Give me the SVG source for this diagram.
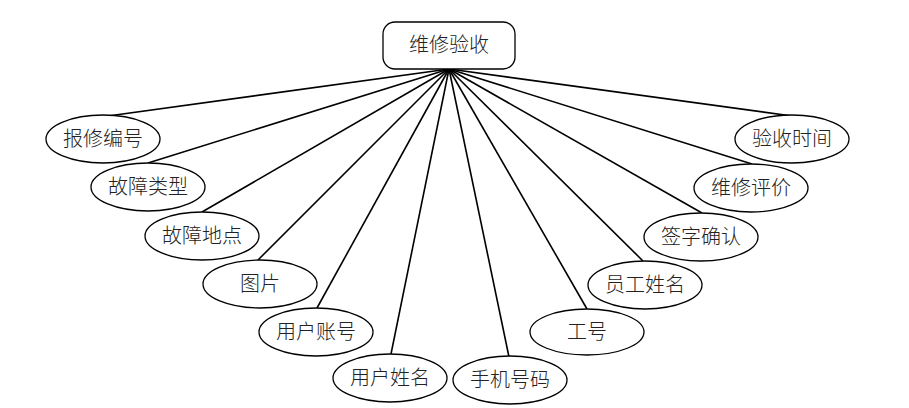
<svg xmlns="http://www.w3.org/2000/svg" width="909" height="408" viewBox="0 0 909 408">
<style>
.n{fill:#fff;stroke:#000;stroke-width:1.3}
.t{font-family:"Noto Sans CJK SC","Noto Sans",sans-serif;font-size:20px;font-weight:300;fill:#222;text-anchor:middle}
.c line{stroke:#000;stroke-width:1.6}
</style>
<rect width="909" height="408" fill="#fff"/>
<g class="c" id="connectors">
<line x1="449" y1="69" x2="108" y2="116"/>
<line x1="449" y1="69" x2="148" y2="163"/>
<line x1="449" y1="69" x2="202" y2="212"/>
<line x1="449" y1="69" x2="258" y2="260"/>
<line x1="449" y1="69" x2="317" y2="308"/>
<line x1="449" y1="69" x2="391" y2="354"/>
<line x1="449" y1="69" x2="509" y2="357"/>
<line x1="449" y1="69" x2="587" y2="309"/>
<line x1="449" y1="69" x2="643" y2="261"/>
<line x1="449" y1="69" x2="702" y2="213"/>
<line x1="449" y1="69" x2="752" y2="164"/>
<line x1="449" y1="69" x2="792" y2="116"/>
</g>
<g id="root"><rect class="n" x="383" y="22" width="132" height="47" rx="12"/><text class="t" x="449" y="52">维修验收</text></g>
<g id="n1"><ellipse class="n" cx="103" cy="139" rx="57" ry="24"/><text class="t" x="103" y="146">报修编号</text></g>
<g id="n2"><ellipse class="n" cx="148" cy="187" rx="57" ry="24"/><text class="t" x="148" y="194">故障类型</text></g>
<g id="n3"><ellipse class="n" cx="202" cy="236" rx="57" ry="24"/><text class="t" x="202" y="243">故障地点</text></g>
<g id="n4"><ellipse class="n" cx="260" cy="284" rx="57" ry="24"/><text class="t" x="260" y="291">图片</text></g>
<g id="n5"><ellipse class="n" cx="316" cy="332" rx="57" ry="24"/><text class="t" x="316" y="339">用户账号</text></g>
<g id="n6"><ellipse class="n" cx="390" cy="378" rx="57" ry="24"/><text class="t" x="390" y="385">用户姓名</text></g>
<g id="n7"><ellipse class="n" cx="510" cy="380" rx="57" ry="24"/><text class="t" x="510" y="387">手机号码</text></g>
<g id="n8"><ellipse class="n" cx="587" cy="332" rx="57" ry="23"/><text class="t" x="587" y="339">工号</text></g>
<g id="n9"><ellipse class="n" cx="645" cy="285" rx="57" ry="24"/><text class="t" x="645" y="292">员工姓名</text></g>
<g id="n10"><ellipse class="n" cx="701" cy="237" rx="57" ry="24"/><text class="t" x="701" y="244">签字确认</text></g>
<g id="n11"><ellipse class="n" cx="751" cy="188" rx="57" ry="24"/><text class="t" x="751" y="195">维修评价</text></g>
<g id="n12"><ellipse class="n" cx="792" cy="139" rx="57" ry="24"/><text class="t" x="792" y="146">验收时间</text></g>
</svg>
